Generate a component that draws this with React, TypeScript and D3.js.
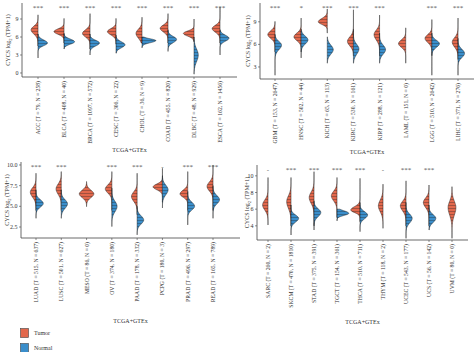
import React from 'react';
import * as d3 from 'd3';

// violin summary: [min, centre, sd below, sd above, max]
type Stat = [number, number, number, number, number];

const P1_LABELS = ['ACC (T = 79, N = 258)', 'BLCA (T = 408, N = 40)', 'BRCA (T = 1097, N = 572)', 'CESC (T = 306, N = 22)',
  'CHOL (T = 36, N = 9)', 'COAD (T = 455, N = 820)', 'DLBC (T = 48, N = 929)', 'ESCA (T = 162, N = 1456)'];
const P1_SIG = ['***', '***', '***', '***', '***', '***', '***', '***'];
const P1_TUMOR: Stat[] = [
  [4.5, 7.2, 0.7, 0.6, 9.7], [5.0, 6.9, 0.45, 0.45, 9.1], [4.0, 6.6, 0.6, 0.6, 9.9], [4.8, 6.9, 0.55, 0.5, 9.1],
  [5.0, 6.6, 0.8, 0.7, 9.3], [5.0, 7.45, 0.6, 0.55, 9.9], [5.2, 6.6, 0.45, 0.4, 9.0], [5.0, 7.4, 0.6, 0.55, 11.0]];
const P1_NORMAL: (Stat | null)[] = [
  [2.5, 5.0, 0.45, 0.5, 6.5], [4.0, 5.2, 0.4, 0.45, 6.6], [3.0, 5.0, 0.5, 0.45, 6.5], [3.3, 4.7, 0.5, 0.5, 6.3],
  [4.2, 5.4, 0.35, 0.3, 6.0], [3.6, 5.6, 0.55, 0.5, 7.2], [-0.2, 3.0, 1.1, 1.0, 6.0], [3.0, 5.8, 0.5, 0.5, 7.2]];
const P1_TICKS = [0, 3, 6, 9];

const P2_LABELS = ['GBM (T = 153, N = 2647)', 'HNSC (T = 502, N = 44)', 'KICH (T = 65, N = 113)', 'KIRC (T = 530, N = 161)',
  'KIRP (T = 288, N = 121)', 'LAML (T = 151, N = 0)', 'LGG (T = 510, N = 2642)', 'LIHC (T = 371, N = 276)'];
const P2_SIG = ['***', '*', '***', '***', '***', '', '***', '***'];
const P2_TUMOR: Stat[] = [
  [5.0, 7.3, 0.5, 0.5, 9.05], [5.0, 7.0, 0.5, 0.5, 9.5], [7.5, 9.0, 0.35, 0.45, 10.7], [4.5, 6.4, 0.6, 0.6, 10.6],
  [4.5, 7.3, 0.7, 0.6, 9.9], [3.5, 6.1, 0.5, 0.5, 8.2], [4.5, 6.8, 0.55, 0.5, 9.3], [4.0, 6.3, 0.65, 0.6, 9.5]];
const P2_NORMAL: (Stat | null)[] = [
  [1.9, 5.9, 0.6, 0.5, 7.3], [4.2, 6.6, 0.55, 0.5, 8.0], [3.5, 5.3, 0.6, 0.6, 7.0], [3.5, 5.4, 0.7, 0.6, 8.0],
  [3.5, 5.3, 0.6, 0.6, 7.5], null, [1.9, 6.1, 0.5, 0.45, 7.5], [1.9, 4.8, 0.55, 0.55, 6.8]];
const P2_TICKS = [3, 6, 9];

const P3_LABELS = ['LUAD (T = 515, N = 637)', 'LUSC (T = 501, N = 627)', 'MESO (T = 86, N = 0)', 'OV (T = 374, N = 180)',
  'PAAD (T = 178, N = 332)', 'PCPG (T = 180, N = 3)', 'PRAD (T = 496, N = 297)', 'READ (T = 165, N = 789)'];
const P3_SIG = ['***', '***', '', '***', '***', '-', '***', '***'];
const P3_TUMOR: Stat[] = [
  [4.5, 6.7, 0.6, 0.55, 9.0], [4.5, 7.1, 0.65, 0.6, 9.2], [4.96, 6.5, 0.45, 0.45, 8.0], [4.5, 7.1, 0.5, 0.5, 9.2],
  [4.0, 6.2, 0.6, 0.55, 9.0], [5.5, 7.35, 0.35, 0.35, 9.6], [4.5, 6.5, 0.4, 0.45, 9.2], [4.5, 7.4, 0.55, 0.55, 10.0]];
const P3_NORMAL: (Stat | null)[] = [
  [3.55, 5.35, 0.45, 0.45, 7.0], [3.55, 5.3, 0.55, 0.5, 7.0], null, [2.55, 5.0, 0.65, 0.6, 7.2],
  [1.55, 3.35, 0.5, 0.5, 5.0], [4.8, 7.0, 0.6, 0.55, 8.7], [2.75, 5.0, 0.45, 0.5, 6.8], [3.55, 5.8, 0.5, 0.5, 7.5]];
const P3_TICKS = [2.5, 5, 7.5, 10];

const P4_LABELS = ['SARC (T = 260, N = 2)', 'SKCM (T = 470, N = 1810)', 'STAD (T = 375, N = 391)', 'TGCT (T = 154, N = 361)',
  'THCA (T = 510, N = 711)', 'THYM (T = 118, N = 2)', 'UCEC (T = 543, N = 177)', 'UCS (T = 56, N = 142)', 'UVM (T = 80, N = 0)'];
const P4_SIG = ['-', '***', '***', '***', '***', '-', '***', '***', ''];
const P4_TUMOR: Stat[] = [
  [4.1, 6.5, 0.6, 0.6, 9.8], [4.0, 6.9, 0.8, 0.7, 9.8], [4.0, 7.4, 0.7, 0.65, 10.5], [5.0, 7.6, 0.6, 0.55, 9.8],
  [4.5, 5.9, 0.3, 0.4, 9.7], [3.7, 6.4, 0.7, 0.7, 9.0], [4.0, 6.4, 0.6, 0.55, 9.4], [4.0, 6.8, 0.6, 0.55, 8.9],
  [2.5, 6.2, 0.9, 0.75, 8.7]];
const P4_NORMAL: (Stat | null)[] = [
  null, [2.9, 4.9, 0.45, 0.4, 6.5], [3.5, 5.6, 0.5, 0.45, 7.0], [4.6, 5.5, 0.25, 0.3, 6.0],
  [3.3, 5.3, 0.45, 0.4, 6.8], null, [2.5, 4.9, 0.55, 0.5, 6.8], [3.5, 4.9, 0.5, 0.45, 6.5], null];
const P4_TICKS = [4, 6, 8, 10];

// tumour-only groups drawn as a whole violin
const FULL_TUMOR = ['MESO', 'UVM'];

const RED = '#E2684C';
const BLUE = '#3A8ECB';
const FONT = 'Liberation Serif, serif';
const K = 27;

function violin(stat: Stat, cx: number, y: d3.ScaleLinear<number, number>, side: string) {
  const [lo, c, sdLo, sdHi, hi] = stat;
  const ppu = Math.abs(y(1) - y(0));
  const peak = K / (((sdLo + sdHi) / 2) * ppu);
  const vals = d3.range(lo, hi, (hi - lo) / 160).concat(hi);
  const w = (v: number) => {
    const s = v < c ? sdLo : sdHi;
    return peak * Math.exp(-0.5 * ((v - c) / s) ** 2);
  };
  const area = d3.area<number>()
    .y(v => y(v))
    .x0(v => (side === 'full' ? cx - w(v) : cx))
    .x1(v => (side === 'left' ? cx - w(v) : cx + w(v)))
    .curve(d3.curveBasis);
  return area(vals) || '';
}

type PanelProps = {
  labels: string[]; sig: string[]; tumor: Stat[]; normal: (Stat | null)[]; ticks: number[]; fmt: string;
  first: number; last: number; left: number; right: number; top: number; bottom: number;
  domain: [number, number]; sigY: number; ylabX: number; titleY: number;
};

function Panel(p: PanelProps) {
  const x = d3.scalePoint<string>().domain(p.labels).range([p.first, p.last]);
  const y = d3.scaleLinear().domain(p.domain).range([p.bottom, p.top]);
  const f = d3.format(p.fmt);
  return (
    <g fontFamily={FONT}>
      {p.labels.map((lab, i) => {
        const cx = x(lab) as number;
        const name = lab.split(' ')[0];
        const t = p.tumor[i];
        const n = p.normal[i];
        const tSide = !n && FULL_TUMOR.includes(name) ? 'full' : 'left';
        const tp = violin(t, cx, y, tSide);
        const np = n ? violin(n, cx, y, 'right') : null;
        return (
          <g key={lab}>
            <path d={tp} fill={RED} />
            <path d={tp} fill="url(#hatch)" stroke="#222" strokeWidth={0.5} />
            {np && <path d={np} fill={BLUE} />}
            {np && <path d={np} fill="url(#hatch)" stroke="#222" strokeWidth={0.5} />}
            <text x={cx} y={p.sigY} fontSize={7} fill="#555" textAnchor="middle">{p.sig[i]}</text>
            <line x1={cx} x2={cx} y1={p.bottom} y2={p.bottom + 2} stroke="#444" strokeWidth={0.6} />
            <text transform={`translate(${cx},${p.bottom + 4}) rotate(-90)`} fontSize={5.7} fill="#333"
              textAnchor="end" dy="0.35em">{lab}</text>
          </g>
        );
      })}
      <line x1={p.left} x2={p.left} y1={p.top} y2={p.bottom} stroke="#444" strokeWidth={0.8} />
      <line x1={p.left} x2={p.right} y1={p.bottom} y2={p.bottom} stroke="#444" strokeWidth={0.8} />
      {p.ticks.map(t => (
        <g key={t}>
          <line x1={p.left - 2} x2={p.left} y1={y(t)} y2={y(t)} stroke="#444" strokeWidth={0.6} />
          <text x={p.left - 3.5} y={y(t)} dy="0.35em" fontSize={6} fill="#333" textAnchor="end">{f(t)}</text>
        </g>
      ))}
      <text transform={`translate(${p.ylabX},${(p.top + p.bottom) / 2}) rotate(-90)`} fontSize={6} fill="#333"
        textAnchor="middle">CYCS log<tspan fontSize={4.5} dy="1.5">2</tspan><tspan dy="-1.5"> (TPM+1)</tspan></text>
      <text x={(p.left + p.right) / 2} y={p.titleY} fontSize={6} fill="#333" textAnchor="middle">TCGA+GTEx</text>
    </g>
  );
}

export default function App() {
  return (
    <svg width={474} height={352} style={{ position: 'absolute', left: 0, top: 0, background: '#fff' }}>
      <defs>
        <pattern id="hatch" patternUnits="userSpaceOnUse" width={8} height={3}>
          <line x1={0} x2={8} y1={1.5} y2={1.5} stroke="#222" strokeWidth={0.45} strokeOpacity={0.75} />
        </pattern>
      </defs>
      <rect width={474} height={352} fill="#fff" />
      <Panel labels={P1_LABELS} sig={P1_SIG} tumor={P1_TUMOR} normal={P1_NORMAL} ticks={P1_TICKS} fmt="d"
        first={38} last={220} left={22} right={237} top={3} bottom={77} domain={[-0.67, 11.67]}
        sigY={10} ylabX={10} titleY={152} />
      <Panel labels={P2_LABELS} sig={P2_SIG} tumor={P2_TUMOR} normal={P2_NORMAL} ticks={P2_TICKS} fmt="d"
        first={275} last={458} left={260} right={474} top={3} bottom={79} domain={[1.4, 11.5]}
        sigY={10} ylabX={250} titleY={154} />
      <Panel labels={P3_LABELS} sig={P3_SIG} tumor={P3_TUMOR} normal={P3_NORMAL} ticks={P3_TICKS} fmt=".1f"
        first={36} last={213} left={21} right={240} top={162} bottom={238} domain={[1.17, 10.36]}
        sigY={169} ylabX={9} titleY={323} />
      <Panel labels={P4_LABELS} sig={P4_SIG} tumor={P4_TUMOR} normal={P4_NORMAL} ticks={P4_TICKS} fmt="d"
        first={268} last={452} left={257} right={468} top={165} bottom={240} domain={[2.3, 11.3]}
        sigY={172} ylabX={249} titleY={324} />
      <g fontFamily={FONT}>
        <rect x={20.5} y={328.5} width={8} height={9} fill={RED} stroke="#444" strokeWidth={0.6} />
        <text x={34} y={333} dy="0.35em" fontSize={6} fill="#333">Tumor</text>
        <rect x={20.5} y={343.5} width={8} height={9} fill={BLUE} stroke="#444" strokeWidth={0.6} />
        <text x={34} y={348} dy="0.35em" fontSize={6} fill="#333">Normal</text>
      </g>
    </svg>
  );
}
